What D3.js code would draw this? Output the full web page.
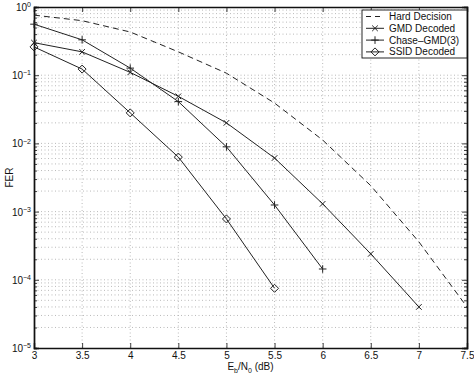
<!DOCTYPE html>
<html>
<head>
<meta charset="utf-8">
<script src="https://cdn.jsdelivr.net/npm/d3@7"></script>
<style>
  body { margin: 0; background: #fff; }
  text { font-family: "Liberation Sans", Arial, sans-serif; fill: #111; }
</style>
</head>
<body>
<div id="chart"></div>
<script>
// values
const snr = [3, 3.5, 4, 4.5, 5, 5.5, 6, 6.5, 7, 7.5];
const hardFer  = [0.76, 0.63, 0.43, 0.22, 0.107, 0.039, 0.0112, 0.0024, 3.6e-4, 4e-5];
const gmdFer   = [0.30, 0.22, 0.11, 0.049, 0.020, 0.0061, 0.0013, 2.4e-4, 4e-5];
const chaseFer = [0.56, 0.33, 0.127, 0.041, 0.0089, 0.00125, 1.44e-4];
const ssidFer  = [0.26, 0.123, 0.028, 0.0063, 7.8e-4, 7.5e-5];
const xTicks = [3, 3.5, 4, 4.5, 5, 5.5, 6, 6.5, 7, 7.5];
const yDecades = [1e-5, 1e-4, 1e-3, 1e-2, 1e-1, 1];
const seriesNames = ["Hard Decision", "GMD Decoded", "Chase\u2013GMD(3)", "SSID Decoded"];

const W = 474, H = 376;
const m = { left: 34, right: 7, top: 7, bottom: 28 };
const iw = W - m.left - m.right, ih = H - m.top - m.bottom;

const svg = d3.select("#chart").append("svg").attr("width", W).attr("height", H);
const g = svg.append("g").attr("transform", `translate(${m.left},${m.top})`);

const x = d3.scaleLinear().domain([3, 7.5]).range([0, iw]);
const y = d3.scaleLog().domain([1e-5, 1]).range([ih, 0]);

// minor log positions 2..9 per decade
const yMinor = [];
yDecades.slice(0, -1).forEach(d => { for (let k = 2; k <= 9; k++) yMinor.push(d * k); });

// grid (dotted)
const grid = g.append("g").attr("stroke", "#a8a8a8").attr("stroke-width", 0.8).attr("stroke-dasharray", "1,2.5");
grid.selectAll(".gx").data(xTicks.slice(1, -1)).enter().append("line")
  .attr("x1", d => x(d)).attr("x2", d => x(d)).attr("y1", 0).attr("y2", ih);
grid.selectAll(".gy").data(yMinor.concat(yDecades.slice(1, -1))).enter().append("line")
  .attr("y1", d => y(d)).attr("y2", d => y(d)).attr("x1", 0).attr("x2", iw);

// superscript labels 10^n
const fmtSup = sel => sel.each(function(d) {
  const t = d3.select(this).text(null);
  const e = Math.round(Math.log10(d));
  t.append("tspan").text("10");
  t.append("tspan").attr("dy", "-0.55em").attr("font-size", "7px").text(e === 0 ? "0" : "\u2212" + (-e));
});

// axes with inward ticks on all four sides
const xb = g.append("g").attr("transform", `translate(0,${ih})`)
  .call(d3.axisBottom(x).tickValues(xTicks).tickSize(-5).tickPadding(4).tickFormat(d3.format("")));
const xt = g.append("g").call(d3.axisTop(x).tickValues(xTicks).tickSize(-5).tickFormat(""));
const yl = g.append("g")
  .call(d3.axisLeft(y).tickValues(yDecades).tickSize(-5).tickPadding(3));
const yr = g.append("g").attr("transform", `translate(${iw},0)`)
  .call(d3.axisRight(y).tickValues(yDecades).tickSize(-5).tickFormat(""));
const ylm = g.append("g").call(d3.axisLeft(y).tickValues(yMinor).tickSize(-3).tickFormat(""));
const yrm = g.append("g").attr("transform", `translate(${iw},0)`)
  .call(d3.axisRight(y).tickValues(yMinor).tickSize(-3).tickFormat(""));

[xb, xt, yl, yr, ylm, yrm].forEach(a => {
  a.select(".domain").attr("stroke", "#111").attr("stroke-width", 1.4);
  a.selectAll(".tick line").attr("stroke", "#111").attr("stroke-width", 0.8);
  a.selectAll("text").attr("font-size", "10px").attr("font-family", "Liberation Sans, Arial, sans-serif").attr("fill", "#111");
});
yl.selectAll(".tick text").call(fmtSup).attr("dy", "0.35em");

// lines
const line = d3.line().x(d => x(d[0])).y(d => y(d[1]));
const pts = vals => vals.map((v, i) => [snr[i], v]);

g.append("path").datum(pts(hardFer)).attr("d", line)
  .attr("fill", "none").attr("stroke", "#222").attr("stroke-width", 1).attr("stroke-dasharray", "6,4");

const series = [
  { data: pts(gmdFer), marker: "x" },
  { data: pts(chaseFer), marker: "plus" },
  { data: pts(ssidFer), marker: "diamond" }
];

function drawMarker(sel, type) {
  if (type === "x") sel.append("path").attr("d", "M-2.8,-2.8L2.8,2.8M-2.8,2.8L2.8,-2.8");
  else if (type === "plus") sel.append("path").attr("d", "M-3.8,0L3.8,0M0,-3.8L0,3.8");
  else if (type === "diamond") sel.append("path").attr("d", "M0,-4L4,0L0,4L-4,0Z");
  sel.selectAll("path").attr("stroke", "#222").attr("stroke-width", 1).attr("fill", "none");
}

series.forEach(s => {
  g.append("path").datum(s.data).attr("d", line)
    .attr("fill", "none").attr("stroke", "#222").attr("stroke-width", 1);
  g.selectAll(null).data(s.data).enter().append("g")
    .attr("transform", d => `translate(${x(d[0])},${y(d[1])})`)
    .each(function() { drawMarker(d3.select(this), s.marker); });
});

// axis labels
const xlab = svg.append("text").attr("x", m.left + iw / 2).attr("y", 370)
  .attr("text-anchor", "middle").attr("font-size", "10px");
xlab.append("tspan").text("E");
xlab.append("tspan").attr("font-size", "7px").attr("dy", "3").text("b");
xlab.append("tspan").attr("dy", "-3").text("/N");
xlab.append("tspan").attr("font-size", "7px").attr("dy", "3").text("0");
xlab.append("tspan").attr("dy", "-3").text(" (dB)");

svg.append("text").attr("transform", `translate(13,${m.top + ih / 2}) rotate(-90)`)
  .attr("text-anchor", "middle").attr("font-size", "10px").text("FER");

// legend
const lg = svg.append("g").attr("transform", "translate(362,10)");
lg.append("rect").attr("width", 105).attr("height", 48).attr("fill", "#fff").attr("stroke", "#111").attr("stroke-width", 0.9);
const markers = [null, "x", "plus", "diamond"];
seriesNames.forEach((name, i) => {
  const row = lg.append("g").attr("transform", `translate(0,${6.5 + i * 11.8})`);
  row.append("line").attr("x1", 4).attr("x2", 22).attr("stroke", "#222").attr("stroke-width", 1)
    .attr("stroke-dasharray", i === 0 ? "5,4" : null);
  if (markers[i]) drawMarker(row.append("g").attr("transform", "translate(13,0)"), markers[i]);
  row.append("text").attr("x", 27).attr("dy", "0.35em").attr("font-size", "10px").text(name);
});
</script>
</body>
</html>
